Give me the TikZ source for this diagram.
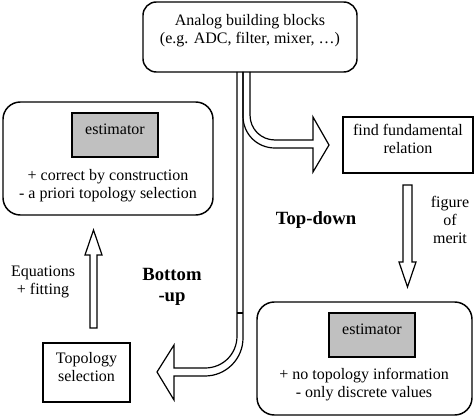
\documentclass[tikz,border=0pt]{standalone}
\usepackage{fontspec}
\setmainfont{Liberation Serif}
\usepackage{xcolor}
\usetikzlibrary{fit}
\definecolor{estgray}{RGB}{192,192,192}
\begin{document}
\begin{tikzpicture}[x=.75pt, y=-.75pt, line width=.9pt, font=\rmfamily\fontsize{12}{13.5}\selectfont]
    \tikzstyle{rbox}=[draw, rounded corners=10pt, line width=1.1pt, inner sep=0pt]
    \tikzstyle{sbox}=[draw, line width=1.1pt, inner sep=0pt, align=center]
    \tikzstyle{est}=[sbox, fill=estgray]
    \tikzstyle{txt}=[align=center, inner sep=0pt]
    \tikzstyle{big}=[txt, font=\rmfamily\fontsize{14}{15.75}\selectfont\bfseries]
    \useasboundingbox (0,0) rectangle (474,416);

    \node[rbox, fit={(143,2) (357,72)}] (blocks) {};
    \node[txt] (blockstext) at (250,31) {Analog building blocks\\(e.g. ADC, filter, mixer, …)};

    \node[rbox, rounded corners=13pt, fit={(3,102) (213,215)}] (exact) {};
    \node[est, fit={(72,113) (158,157)}] (estleft) {estimator};
    \node[txt] (prosleft) at (108,186) {+ correct by construction\\- a priori topology selection};

    \node[sbox, fit={(343,117) (473,173)}] (relation) {find fundamental\\relation};

    \node[rbox, rounded corners=13pt, fit={(257,302) (472,415)}] (discrete) {};
    \node[est, fit={(329,313) (415,357)}] (estright) {estimator};
    \node[txt] (prosright) at (364,385) {+ no topology information\\- only discrete values};

    \node[sbox, fit={(43,343) (130,402)}] (topology) {Topology\\selection};

    \node[big] (topdown) at (316,220) {Top-down};
    \node[big] (bottomup) at (172,287) {Bottom\\-up};
    \node[txt] (fitting) at (43,282) {Equations\\+ fitting};
    \node[txt] (merit) at (450,220) {figure\\of\\merit};

    \draw (243,72) -- (243,116) .. controls (243,134) and (257,148) .. (275,148) -- (313,148) -- (313,172) -- (329,145)
        -- (313,117) -- (313,140) -- (275,140) .. controls (261,140) and (250,129) .. (250,115) -- (250,72);
    \draw (237,72) -- (237,336) .. controls (237,354) and (223,368) .. (205,368) -- (174,368) -- (174,345) -- (157,372)
        -- (174,400) -- (174,376) -- (205,376) .. controls (226,376) and (243,359) .. (243,338) -- (243,72);
    \draw (237,313) -- (243,313);

    \draw (90,328) -- (90,255) -- (85,255) -- (93.5,230) -- (102,255) -- (97,255) -- (97,328) -- cycle;
    \draw (403,185) -- (403,262) -- (399,262) -- (407.5,287) -- (416,262) -- (412,262) -- (412,185) -- cycle;
\end{tikzpicture}
\end{document}
